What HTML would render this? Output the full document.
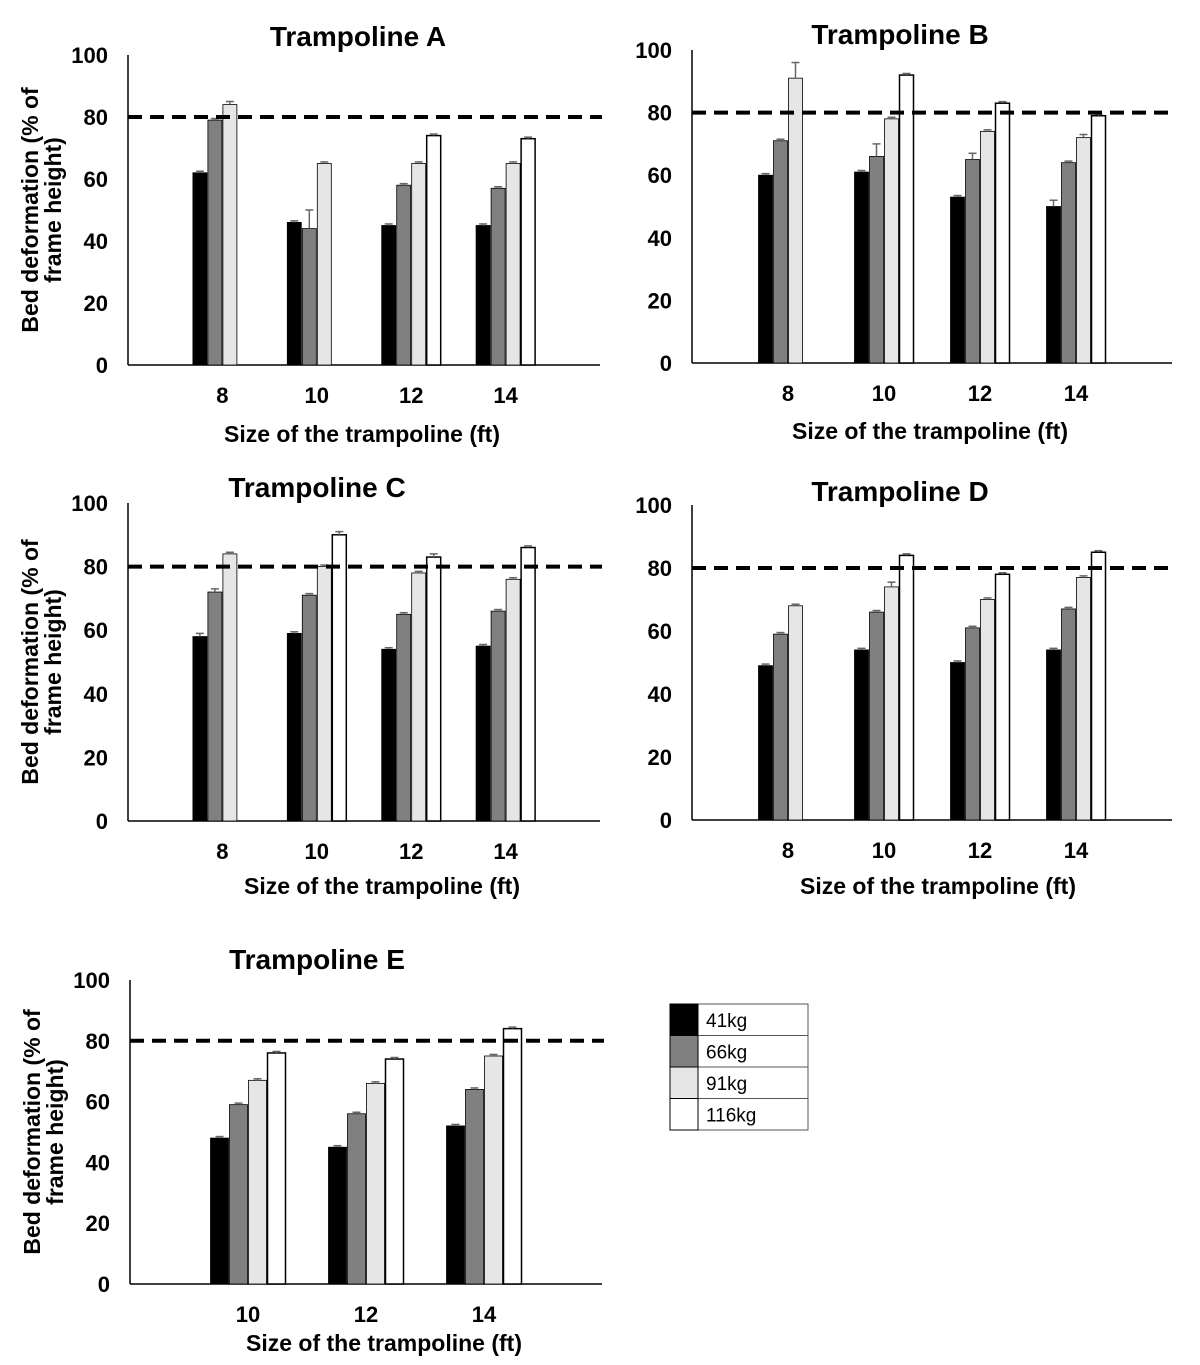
<!DOCTYPE html>
<html><head><meta charset="utf-8"><style>
body{margin:0;background:#fff}
svg text{font-family:"Liberation Sans",Arial,sans-serif;font-weight:bold;fill:#000}
</style></head><body>
<svg id="c" width="1200" height="1360" xmlns="http://www.w3.org/2000/svg"></svg>
<script>
const seriesNames=["41kg","66kg","91kg","116kg"];
const colors=["#000","#808080","#e6e6e6","#fff"];
const catsA=["8","10","12","14"];
const valsA=[[62,79,84,null],[46,44,65,null],[45,58,65,74],[45,57,65,73]];
const errA=[[0.5,0.5,1,0],[0.5,6,0.5,0],[0.5,0.5,0.5,0.5],[0.5,0.5,0.5,0.5]];
const catsB=["8","10","12","14"];
const valsB=[[60,71,91,null],[61,66,78,92],[53,65,74,83],[50,64,72,79]];
const errB=[[0.5,0.5,5,0],[0.5,4,0.5,0.5],[0.5,2,0.5,0.5],[2,0.5,1,0.5]];
const catsC=["8","10","12","14"];
const valsC=[[58,72,84,null],[59,71,80,90],[54,65,78,83],[55,66,76,86]];
const errC=[[1,1,0.5,0],[0.5,0.5,0.5,1],[0.5,0.5,0.5,1],[0.5,0.5,0.5,0.5]];
const catsD=["8","10","12","14"];
const valsD=[[49,59,68,null],[54,66,74,84],[50,61,70,78],[54,67,77,85]];
const errD=[[0.5,0.5,0.5,0],[0.5,0.5,1.5,0.5],[0.5,0.5,0.5,0.5],[0.5,0.5,0.5,0.5]];
const catsE=["10","12","14"];
const valsE=[[48,59,67,76],[45,56,66,74],[52,64,75,84]];
const errE=[[0.5,0.5,0.5,0.5],[0.5,0.5,0.5,0.5],[0.5,0.5,0.5,0.5]];
const yTicks=[0,20,40,60,80,100];
const threshold=80;

const svg=document.getElementById('c');
const NS="http://www.w3.org/2000/svg";
function el(tag,attrs,parent){const e=document.createElementNS(NS,tag);for(const k in attrs)e.setAttribute(k,attrs[k]);(parent||svg).appendChild(e);return e;}

function panel(p){
  const g=el('g',{});
  
  
  const y=v=>p.base-(v/100)*(p.base-p.top);
  const band=(p.x1-p.x0)/(p.cats.length+1);
  const cx=i=>p.x0+band*(i+1);
  const t=el('text',{x:p.tx,y:p.ty,'font-size':28,'text-anchor':'middle'},g);t.textContent=p.title;
  
  yTicks.forEach(v=>{const tt=el('text',{x:p.x0-20,y:y(v)+8,'font-size':22,'text-anchor':'end'},g);tt.textContent=v;
    });
  el('line',{x1:p.x0,y1:p.top,x2:p.x0,y2:p.base,stroke:'#000','stroke-width':1.5},g);
  el('line',{x1:p.x0,y1:p.base,x2:p.x1,y2:p.base,stroke:'#000','stroke-width':1.5},g);
  p.vals.forEach((grp,i)=>{
    grp.forEach((v,j)=>{
      if(v==null)return;
      const bx=cx(i)-2*p.bw+j*p.bw;
      const r=el('rect',{x:bx+0.5,y:y(v),width:p.bw-1,height:p.base-y(v),fill:colors[j],stroke:'#000','stroke-width':j==3?1.5:0.8},g);
      
      
      const e=p.err[i][j];
      if(e>0){const ey=y(v+e);const m=bx+p.bw/2;
        el('line',{x1:m,y1:y(v),x2:m,y2:ey,stroke:'#666','stroke-width':1.5},g);
        el('line',{x1:m-4,y1:ey,x2:m+4,y2:ey,stroke:'#666','stroke-width':1.5},g);}
    });
    const xl=el('text',{x:cx(i),y:p.base+38,'font-size':22,'text-anchor':'middle'},g);xl.textContent=p.cats[i];
    
  });
  const d=el('line',{x1:p.x0,y1:y(threshold),x2:p.dx1,y2:y(threshold),stroke:'#000','stroke-width':4,'stroke-dasharray':'14,8'},g);
  
  const xt=el('text',{x:p.xtx,y:p.xty,'font-size':23,'text-anchor':'middle'},g);xt.textContent='Size of the trampoline (ft)';
  
  if(p.ylab){
    const yt=el('text',{'font-size':23,'text-anchor':'middle',transform:`translate(${p.x0-90},${(p.top+p.base)/2}) rotate(-90)`},g);
    
    const a=el('tspan',{x:0,dy:0},yt);a.textContent='Bed deformation (% of';
    const b=el('tspan',{x:0,dy:23},yt);b.textContent='frame height)';
  }
}
panel({id:'a',title:'Trampoline A',tx:358,ty:46,x0:128,x1:600,top:55,base:365,bw:15,cats:catsA,vals:valsA,err:errA,dx1:602,xtx:362,xty:442,ylab:true});
panel({id:'b',title:'Trampoline B',tx:900,ty:44,x0:692,x1:1172,top:50,base:363,bw:15,cats:catsB,vals:valsB,err:errB,dx1:1172,xtx:930,xty:439,ylab:false});
panel({id:'c',title:'Trampoline C',tx:317,ty:497,x0:128,x1:600,top:503,base:821,bw:15,cats:catsC,vals:valsC,err:errC,dx1:602,xtx:382,xty:894,ylab:true});
panel({id:'d',title:'Trampoline D',tx:900,ty:501,x0:692,x1:1172,top:505,base:820,bw:15,cats:catsD,vals:valsD,err:errD,dx1:1172,xtx:938,xty:894,ylab:false});
panel({id:'e',title:'Trampoline E',tx:317,ty:969,x0:130,x1:602,top:980,base:1284,bw:19,cats:catsE,vals:valsE,err:errE,dx1:604,xtx:384,xty:1351,ylab:true});
const lg=el('g',{});


seriesNames.forEach((n,i)=>{
  const yy=1004+i*31.5;
  el('rect',{x:670,y:yy,width:138,height:31.5,fill:'#fff',stroke:'#555','stroke-width':1},lg);
  el('rect',{x:670,y:yy,width:28,height:31.5,fill:colors[i],stroke:'#000','stroke-width':1},lg);
  const t=el('text',{x:706,y:yy+23,'font-size':19,style:'font-weight:normal'},lg);t.textContent=n;
  
});
</script>
</body></html>
